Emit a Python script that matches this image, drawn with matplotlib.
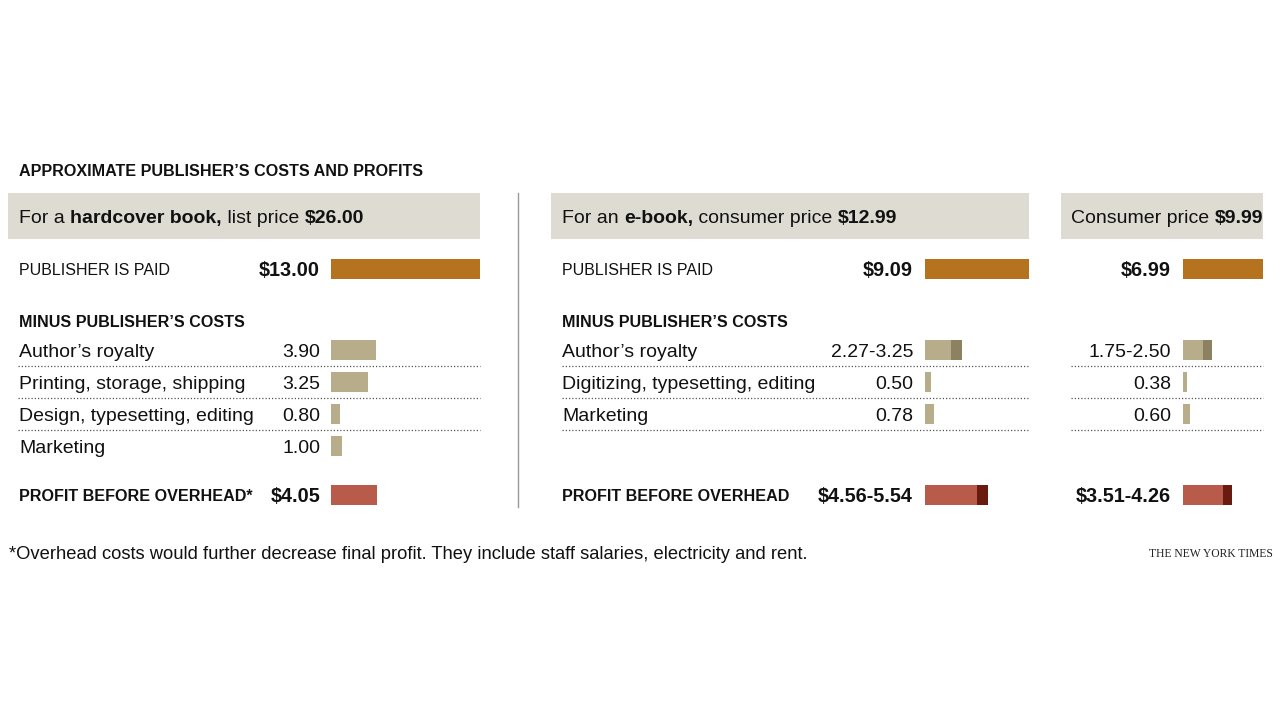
import matplotlib
matplotlib.use("Agg")
import matplotlib.pyplot as plt
from matplotlib.patches import Rectangle

# ---------------- data ----------------
hc_list_price = "$26.00"
hc_paid = 13.00
hc_cost_labels = ["Author’s royalty", "Printing, storage, shipping",
                  "Design, typesetting, editing", "Marketing"]
hc_costs = [3.90, 3.25, 0.80, 1.00]
hc_profit = 4.05

eb_cost_labels = ["Author’s royalty", "Digitizing, typesetting, editing", "Marketing"]
eb1_price = "$12.99"
eb1_paid = 9.09
eb1_low = [2.27, 0.50, 0.78]
eb1_high = [3.25, 0.50, 0.78]
eb1_profit = (4.56, 5.54)

eb2_price = "$9.99"
eb2_paid = 6.99
eb2_low = [1.75, 0.38, 0.60]
eb2_high = [2.50, 0.38, 0.60]
eb2_profit = (3.51, 4.26)

# ---------------- style ----------------
FONT = "Liberation Sans"
plt.rcParams["font.family"] = [FONT, "DejaVu Sans"]
C_BOX = "#dedbd3"
C_GOLD = "#b5721f"
C_TAN = "#b8ad8a"
C_TAN_D = "#8c8262"
C_RED = "#b95b4b"
C_RED_D = "#6a1b0f"
C_TXT = "#111111"
SCALE = 149 / 13.0  # px per dollar

fig = plt.figure(figsize=(12.8, 7.2), dpi=100)
ax = fig.add_axes([0, 0, 1, 1])
ax.set_xlim(0, 1280)
ax.set_ylim(720, 0)
ax.axis("off")
fig.canvas.draw()
renderer = fig.canvas.get_renderer()


def base(y, size):
    # baseline so that cap height is centred on y
    return y + 0.358 * size * 100 / 72


def txt(x, y, s, size, bold=False, ha="left", color=C_TXT, **kw):
    ax.text(x, base(y, size), s, fontsize=size, fontweight="bold" if bold else "normal",
            ha=ha, va="baseline", color=color, **kw)


def rich(x, y, pieces, size, ha="left"):
    """pieces: list of (text, bold)"""
    widths = []
    for t, b in pieces:
        tt = ax.text(0, 0, t, fontsize=size, fontweight="bold" if b else "normal")
        widths.append(tt.get_window_extent(renderer).width)
        tt.remove()
    total = sum(widths)
    cx = x - total if ha == "right" else x
    for (t, b), w in zip(pieces, widths):
        txt(cx, y, t, size, bold=b)
        cx += w


def bar(x0, y, val, color, h=20):
    ax.barh(y, val * SCALE, left=x0, height=h, color=color, linewidth=0)


def range_bar(x0, y, lo, hi, c1, c2, h=20):
    ax.barh(y, lo * SCALE, left=x0, height=h, color=c1, linewidth=0)
    if hi > lo:
        ax.barh(y, (hi - lo) * SCALE, left=x0 + lo * SCALE, height=h, color=c2, linewidth=0)


def dotted(x0, x1, y):
    ax.plot([x0, x1], [y, y], color="#555555", lw=0.9, linestyle=(0, (1, 1.6)))


HEAD = 11.6     # bold caps headings
PAIDLBL = 11.5
LBL = 14
VAL = 14
BIG = 14.3

# title
txt(19, 170, "APPROXIMATE PUBLISHER’S COSTS AND PROFITS", HEAD, bold=True)

# header boxes
for (x0, x1) in [(8, 480), (551, 1029), (1061, 1263)]:
    ax.add_patch(Rectangle((x0, 193), x1 - x0, 46, facecolor=C_BOX, edgecolor="none"))

rich(19, 216, [("For a ", False), ("hardcover book,", True), (" list price ", False),
               (hc_list_price, True)], LBL)
rich(562, 216, [("For an ", False), ("e-book,", True), (" consumer price ", False),
                (eb1_price, True)], LBL)
rich(1263, 216, [("Consumer price ", False), (eb2_price, True)], LBL, ha="right")

# separator
ax.plot([518, 518], [193, 507], color="#999999", lw=1)

ROW_PAID = 269
ROW_MINUS = 321
ROWS = [350, 382, 414, 446]
ROW_PROFIT = 495

# ---- hardcover panel
txt(19, ROW_PAID, "PUBLISHER IS PAID", PAIDLBL)
txt(320, ROW_PAID, f"${hc_paid:.2f}", BIG, bold=True, ha="right")
bar(331, ROW_PAID, hc_paid, C_GOLD)
txt(19, ROW_MINUS, "MINUS PUBLISHER’S COSTS", HEAD, bold=True)
for i, (lab, v) in enumerate(zip(hc_cost_labels, hc_costs)):
    y = ROWS[i]
    txt(19, y, lab, LBL)
    txt(320, y, f"{v:.2f}", VAL, ha="right")
    bar(331, y, v, C_TAN)
    if i < len(hc_cost_labels) - 1:
        dotted(18, 480, y + 16)
txt(19, ROW_PROFIT, "PROFIT BEFORE OVERHEAD*", HEAD, bold=True)
txt(320, ROW_PROFIT, f"${hc_profit:.2f}", BIG, bold=True, ha="right")
bar(331, ROW_PROFIT, hc_profit, C_RED)


def fmt_range(lo, hi, dollar=False):
    p = "$" if dollar else ""
    if hi > lo:
        return f"{p}{lo:.2f}-{hi:.2f}"
    return f"{p}{lo:.2f}"


# ---- e-book panels
txt(562, ROW_PAID, "PUBLISHER IS PAID", PAIDLBL)
txt(562, ROW_MINUS, "MINUS PUBLISHER’S COSTS", HEAD, bold=True)
txt(562, ROW_PROFIT, "PROFIT BEFORE OVERHEAD", HEAD, bold=True)
for i, lab in enumerate(eb_cost_labels):
    txt(562, ROWS[i], lab, LBL)

for (vx, bx, lx0, lx1, paid, lows, highs, prof) in [
        (913, 925, 562, 1029, eb1_paid, eb1_low, eb1_high, eb1_profit),
        (1171, 1183, 1071, 1263, eb2_paid, eb2_low, eb2_high, eb2_profit)]:
    txt(vx, ROW_PAID, f"${paid:.2f}", BIG, bold=True, ha="right")
    bar(bx, ROW_PAID, paid, C_GOLD)
    for i, (lo, hi) in enumerate(zip(lows, highs)):
        y = ROWS[i]
        txt(vx, y, fmt_range(lo, hi), VAL, ha="right")
        range_bar(bx, y, lo, hi, C_TAN, C_TAN_D, h=20)
        dotted(lx0, lx1, y + 16)
    txt(vx, ROW_PROFIT, fmt_range(prof[0], prof[1], True), BIG, bold=True, ha="right")
    range_bar(bx, ROW_PROFIT, prof[0], prof[1], C_RED, C_RED_D)

# footnote & credit
txt(9, 552, "*Overhead costs would further decrease final profit. They include staff salaries, electricity and rent.",
    13.2)
txt(1273, 553, "THE NEW YORK TIMES", 8.4, ha="right", color="#222222", family="Liberation Serif")

fig.savefig("out.png", dpi=100, facecolor="white")
